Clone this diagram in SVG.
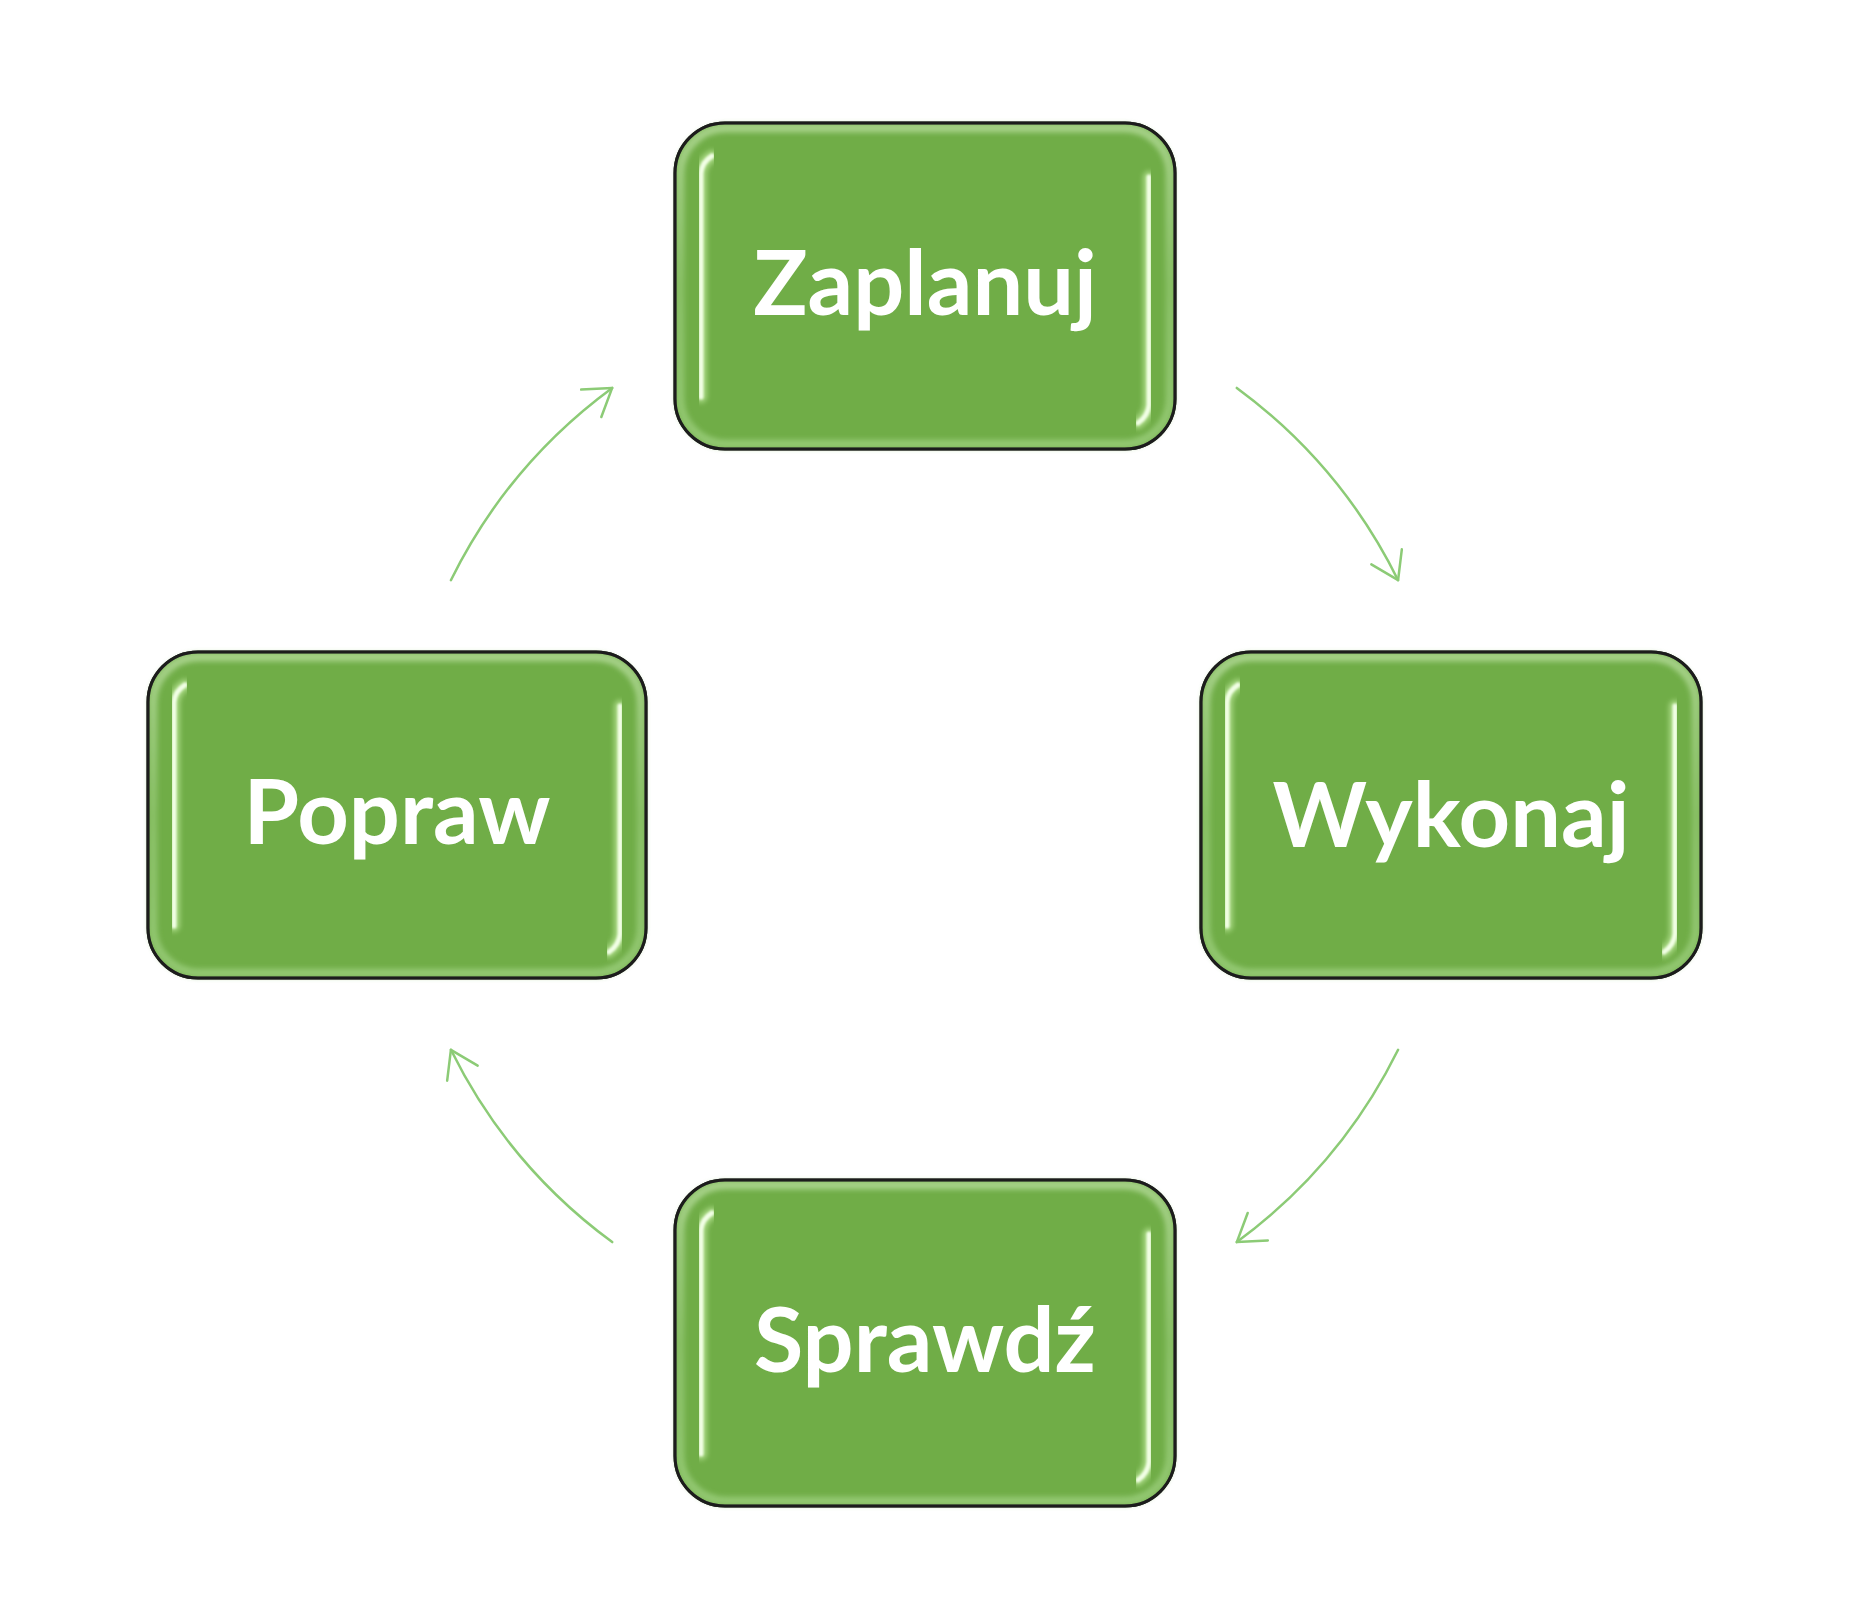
<svg xmlns="http://www.w3.org/2000/svg" width="1860" height="1624" viewBox="0 0 1860 1624">
  <defs>
    <style>
      .box { fill: #70AD47; stroke: #1c1c1c; stroke-width: 3; }
      .edge { fill: none; stroke: #1c1c1c; stroke-width: 3; }
      .rim { fill: none; stroke: url(#rimGrad); stroke-width: 9; filter: url(#soft); opacity: 0.85; }
      .hlGlow { fill: none; stroke: #c9f2a6; stroke-width: 12; stroke-linecap: round; opacity: 0.6; filter: url(#soft); }
      .hl { fill: none; stroke: #f2ffe6; stroke-width: 5; stroke-linecap: round; filter: url(#tiny); }
      .label { font-family: "Lato", "Open Sans", "Liberation Sans", sans-serif; font-weight: 700; font-size: 90px; fill: #ffffff; text-anchor: middle; }
      .arc { fill: none; stroke: #8ccb76; stroke-width: 2.5; stroke-linecap: round; marker-end: url(#arrowhead); }
    </style>
    <linearGradient id="rimGrad" x1="0" y1="0" x2="0" y2="1">
      <stop offset="0" stop-color="#aed792"/>
      <stop offset="0.5" stop-color="#8dc36b"/>
      <stop offset="1" stop-color="#98cc78"/>
    </linearGradient>
    <filter id="soft" x="-10%" y="-10%" width="120%" height="120%">
      <feGaussianBlur stdDeviation="2.5"/>
    </filter>
    <filter id="tiny" x="-10%" y="-10%" width="120%" height="120%">
      <feGaussianBlur stdDeviation="0.8"/>
    </filter>
    <marker id="arrowhead" markerUnits="userSpaceOnUse" orient="auto" refX="0" refY="0" markerWidth="40" markerHeight="40" overflow="visible">
      <path d="M -26,-17 L 0,0 L -26,17" fill="none" stroke="#8ccb76" stroke-width="2.5" stroke-linecap="round" stroke-linejoin="round"/>
    </marker>
  </defs>

  <g id="connectors">
    <path class="arc" d="M 450.9,580.2 A 530 530 0 0 1 612.2,387.9"/>
    <path class="arc" d="M 1236.8,387.9 A 530 530 0 0 1 1398.1,580.2"/>
    <path class="arc" d="M 1398.1,1049.8 A 530 530 0 0 1 1236.8,1242.1"/>
    <path class="arc" d="M 612.2,1242.1 A 530 530 0 0 1 450.9,1049.8"/>
  </g>

  <g id="node-zaplanuj" transform="translate(675,123)">
    <rect class="box" x="0" y="0" width="500" height="326" rx="50" ry="50"/>
    <rect class="rim" x="5" y="5" width="490" height="316" rx="46" ry="46"/>
    <path class="hlGlow" d="M 26,274 L 26,50 Q 27,39 37,33"/>
    <path class="hl" d="M 26,274 L 26,50 Q 27,39 37,33"/>
    <path class="hlGlow" d="M 474,54 L 474,282 Q 473,293 463,300"/>
    <path class="hl" d="M 474,54 L 474,282 Q 473,293 463,300"/>
    <rect class="edge" x="0" y="0" width="500" height="326" rx="50" ry="50"/>
    <text class="label" x="250" y="192">Zaplanuj</text>
  </g>

  <g id="node-wykonaj" transform="translate(1201,652)">
    <rect class="box" x="0" y="0" width="500" height="326" rx="50" ry="50"/>
    <rect class="rim" x="5" y="5" width="490" height="316" rx="46" ry="46"/>
    <path class="hlGlow" d="M 26,274 L 26,50 Q 27,39 37,33"/>
    <path class="hl" d="M 26,274 L 26,50 Q 27,39 37,33"/>
    <path class="hlGlow" d="M 474,54 L 474,282 Q 473,293 463,300"/>
    <path class="hl" d="M 474,54 L 474,282 Q 473,293 463,300"/>
    <rect class="edge" x="0" y="0" width="500" height="326" rx="50" ry="50"/>
    <text class="label" x="250" y="195">Wykonaj</text>
  </g>

  <g id="node-sprawdz" transform="translate(675,1180)">
    <rect class="box" x="0" y="0" width="500" height="326" rx="50" ry="50"/>
    <rect class="rim" x="5" y="5" width="490" height="316" rx="46" ry="46"/>
    <path class="hlGlow" d="M 26,274 L 26,50 Q 27,39 37,33"/>
    <path class="hl" d="M 26,274 L 26,50 Q 27,39 37,33"/>
    <path class="hlGlow" d="M 474,54 L 474,282 Q 473,293 463,300"/>
    <path class="hl" d="M 474,54 L 474,282 Q 473,293 463,300"/>
    <rect class="edge" x="0" y="0" width="500" height="326" rx="50" ry="50"/>
    <text class="label" x="250" y="192">Sprawdź</text>
  </g>

  <g id="node-popraw" transform="translate(148,652)">
    <rect class="box" x="0" y="0" width="498" height="326" rx="50" ry="50"/>
    <rect class="rim" x="5" y="5" width="488" height="316" rx="46" ry="46"/>
    <path class="hlGlow" d="M 26,274 L 26,50 Q 27,39 37,33"/>
    <path class="hl" d="M 26,274 L 26,50 Q 27,39 37,33"/>
    <path class="hlGlow" d="M 472,54 L 472,282 Q 471,293 461,300"/>
    <path class="hl" d="M 472,54 L 472,282 Q 471,293 461,300"/>
    <rect class="edge" x="0" y="0" width="498" height="326" rx="50" ry="50"/>
    <text class="label" x="249" y="192">Popraw</text>
  </g>
</svg>
